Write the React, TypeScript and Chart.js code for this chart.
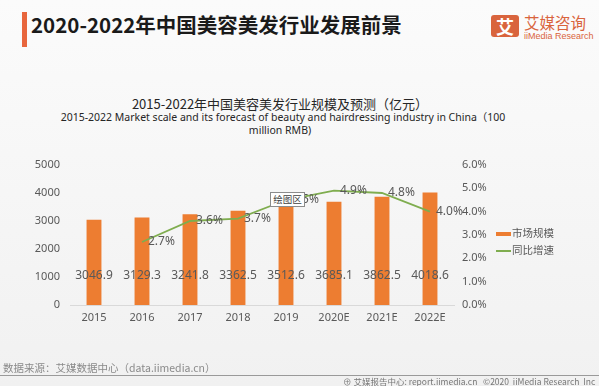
import React, { useEffect, useRef } from "react";
import { Chart, registerables } from "chart.js";

Chart.register(...registerables);

const categories = ["2015", "2016", "2017", "2018", "2019", "2020E", "2021E", "2022E"];
const marketScale = [3046.9, 3129.3, 3241.8, 3362.5, 3512.6, 3685.1, 3862.5, 4018.6];
const growthRate = [null, 2.7, 3.6, 3.7, 4.5, 4.9, 4.8, 4.0];
const leftTicks = [0, 1000, 2000, 3000, 4000, 5000];
const rightTicks = [0, 1, 2, 3, 4, 5, 6];
const seriesNames = ["市场规模", "同比增速"];

const BAR_COLOR = "#ED7D31";
const LINE_COLOR = "#7FAD4F";
const TEXT_COLOR = "#595959";
const FONT = '"Noto Sans", "Noto Sans CJK SC", sans-serif';

const labelPlugin = {
  id: "valueLabels",
  afterDatasetsDraw(chart: any) {
    const ctx = chart.ctx;
    const yScale = chart.scales.y;
    ctx.save();
    ctx.font = `12px ${FONT}`;
    ctx.fillStyle = TEXT_COLOR;
    const barMeta = chart.getDatasetMeta(0);
    barMeta.data.forEach((bar: any, i: number) => {
      ctx.textAlign = "center";
      ctx.textBaseline = "middle";
      ctx.fillText(marketScale[i].toFixed(1), bar.x, yScale.getPixelForValue(1050));
    });
    const lineMeta = chart.getDatasetMeta(1);
    lineMeta.data.forEach((pt: any, i: number) => {
      const v = growthRate[i];
      if (v === null || v === undefined) return;
      ctx.textAlign = "left";
      ctx.textBaseline = "middle";
      ctx.fillText(v.toFixed(1) + "%", pt.x + 6, pt.y);
    });
    ctx.restore();
  },
};

export default function App() {
  const canvasRef = useRef<HTMLCanvasElement | null>(null);

  useEffect(() => {
    if (!canvasRef.current) return;
    const chart = new Chart(canvasRef.current, {
      type: "bar",
      data: {
        labels: categories,
        datasets: [
          {
            type: "bar",
            label: seriesNames[0],
            data: marketScale,
            backgroundColor: BAR_COLOR,
            yAxisID: "y",
            categoryPercentage: 1,
            barPercentage: 0.31,
            order: 1,
          },
          {
            type: "line",
            label: seriesNames[1],
            data: growthRate as any,
            borderColor: LINE_COLOR,
            backgroundColor: LINE_COLOR,
            borderWidth: 1.8,
            pointRadius: 0,
            tension: 0,
            yAxisID: "y1",
            order: 0,
          },
        ],
      },
      options: {
        responsive: false,
        animation: false,
        devicePixelRatio: 1,
        layout: { padding: { left: 0, right: 105, top: 165, bottom: 56 } },
        plugins: {
          legend: { display: false },
          tooltip: { enabled: false },
          title: { display: false },
        },
        scales: {
          x: {
            grid: { display: false, drawTicks: false },
            border: { display: true, color: "#d9d9d9", width: 1 },
            ticks: { color: TEXT_COLOR, font: { family: FONT, size: 11 }, padding: 6, maxRotation: 0 },
            afterFit: (s: any) => { s.height = 25; },
          },
          y: {
            position: "left",
            min: leftTicks[0],
            max: leftTicks[leftTicks.length - 1],
            grid: { display: false, drawTicks: false },
            border: { display: false },
            afterBuildTicks: (s: any) => { s.ticks = leftTicks.map((v) => ({ value: v })); },
            ticks: {
              color: TEXT_COLOR,
              font: { family: FONT, size: 11 },
              padding: 10,
              callback: (v: any) => String(v),
            },
            afterFit: (s: any) => { s.width = 70; },
          },
          y1: {
            position: "right",
            min: rightTicks[0],
            max: rightTicks[rightTicks.length - 1],
            grid: { display: false, drawTicks: false },
            border: { display: false },
            afterBuildTicks: (s: any) => { s.ticks = rightTicks.map((v) => ({ value: v })); },
            ticks: {
              color: TEXT_COLOR,
              font: { family: FONT, size: 11 },
              padding: 8,
              callback: (v: any) => Number(v).toFixed(1) + "%",
            },
            afterFit: (s: any) => { s.width = 40; },
          },
        },
      },
      plugins: [labelPlugin],
    });
    return () => chart.destroy();
  }, []);

  const abs = (o: React.CSSProperties): React.CSSProperties => ({ position: "absolute", whiteSpace: "nowrap", ...o });

  return (
    <div
      style={{
        position: "absolute",
        left: 0,
        top: 0,
        width: 599,
        height: 386,
        overflow: "hidden",
        background: "linear-gradient(#fbfbfb, #f1f1f1)",
        fontFamily: FONT,
      }}
    >
      {/* header */}
      <div style={abs({ left: 22, top: 12, width: 5, height: 35, background: "#E8663D" })} />
      <div style={abs({ left: 31, top: 10, height: 28, lineHeight: "28px", fontSize: 20.5, fontWeight: 700, color: "#1a1a1a", fontFamily: '"Noto Sans CJK SC", sans-serif' })}>
        2020-2022年中国美容美发行业发展前景
      </div>
      <div style={abs({ left: 491, top: 15, width: 28, height: 22, background: "#D9643D", borderRadius: 3, color: "#fff", fontSize: 18, fontWeight: 700, lineHeight: "22px", textAlign: "center", fontFamily: '"Noto Sans CJK SC", sans-serif' })}>
        艾
      </div>
      <div style={abs({ left: 524, top: 12, fontSize: 15.5, lineHeight: "20px", color: "#D9643D", fontFamily: '"Noto Sans CJK SC", sans-serif' })}>
        艾媒咨询
      </div>
      <div style={abs({ left: 524, top: 31, fontSize: 9, lineHeight: "11px", color: "#D9643D", fontFamily: '"Liberation Sans", sans-serif' })}>
        iiMedia Research
      </div>

      {/* chart titles */}
      <div style={abs({ left: 0, width: 560, top: 95, textAlign: "center", fontSize: 13, lineHeight: "17px", color: "#262626", fontFamily: '"Noto Sans CJK SC", sans-serif' })}>
        2015-2022年中国美容美发行业规模及预测（亿元）
      </div>
      <div style={abs({ left: 0, width: 566, top: 110, textAlign: "center", fontSize: 10.5, lineHeight: "14px", color: "#262626" })}>
        2015-2022 Market scale and its forecast of beauty and hairdressing industry in China（100
      </div>
      <div style={abs({ left: 0, width: 560, top: 123, textAlign: "center", fontSize: 10.5, lineHeight: "14px", color: "#262626" })}>
        million RMB)
      </div>

      <canvas ref={canvasRef} width={599} height={386} style={{ position: "absolute", left: 0, top: 0, width: 599, height: 386 }} />

      {/* legend */}
      <div style={abs({ left: 496, top: 232, width: 15, height: 4, background: BAR_COLOR })} />
      <div style={abs({ left: 512, top: 226, fontSize: 10.5, lineHeight: "14px", color: TEXT_COLOR, fontFamily: '"Noto Sans CJK SC", sans-serif' })}>
        {seriesNames[0]}
      </div>
      <div style={abs({ left: 496, top: 250, width: 15, height: 1.5, background: LINE_COLOR })} />
      <div style={abs({ left: 512, top: 243, fontSize: 10.5, lineHeight: "14px", color: TEXT_COLOR, fontFamily: '"Noto Sans CJK SC", sans-serif' })}>
        {seriesNames[1]}
      </div>

      {/* plot-area hover hint */}
      <div style={abs({ left: 270, top: 192, width: 33, height: 13, border: "1px solid #8c8c8c", background: "#fff", fontSize: 9.5, lineHeight: "13px", textAlign: "center", color: "#404040", fontFamily: '"Noto Sans CJK SC", sans-serif' })}>
        绘图区
      </div>

      {/* footer */}
      <div style={abs({ left: 3, top: 361, fontSize: 10.5, lineHeight: "14px", color: "#8a8a8a", fontFamily: '"Noto Sans CJK SC", sans-serif' })}>
        数据来源：艾媒数据中心（data.iimedia.cn）
      </div>
      <div style={abs({ left: 0, top: 375, width: 599, height: 1, background: "#9a9a9a" })} />
      <div style={abs({ left: 343, top: 376, fontSize: 8.5, lineHeight: "10px", color: "#777", fontFamily: '"Noto Sans CJK SC", sans-serif' })}>
        ⊕ 艾媒报告中心: report.iimedia.cn&nbsp;&nbsp;&nbsp;©2020&nbsp;&nbsp;iiMedia Research&nbsp;&nbsp;Inc
      </div>
    </div>
  );
}
